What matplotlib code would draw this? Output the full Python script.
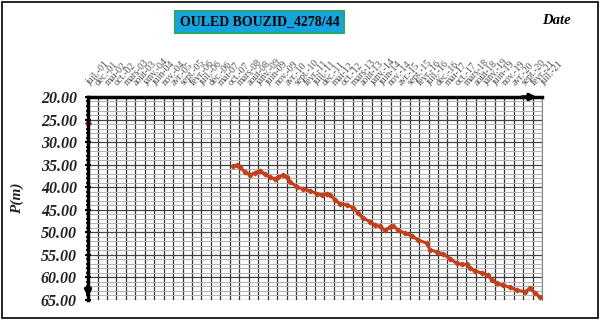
import matplotlib
matplotlib.use("Agg")
import matplotlib.pyplot as plt
import matplotlib.dates as mdates
import matplotlib.transforms as mtransforms
from matplotlib.ticker import MultipleLocator, FixedLocator
from matplotlib.patches import Rectangle
import pandas as pd

title = "OULED BOUZID_4278/44"

first_date = ["2001-07-01"]
first_value = [25.8]

dates = ["2007-11-25", "2008-01-18", "2008-03-10", "2008-06-01", "2008-08-18",
         "2008-11-09", "2009-01-28", "2009-04-18", "2009-07-06", "2009-09-27",
         "2009-11-18", "2010-02-06", "2010-04-01", "2010-05-25", "2010-09-10",
         "2010-12-25", "2011-04-12", "2011-07-28", "2011-10-15", "2012-01-06",
         "2012-02-28", "2012-05-18", "2012-08-06", "2012-11-25", "2013-03-06",
         "2013-05-28", "2013-08-15", "2013-12-03", "2014-02-22", "2014-05-10",
         "2014-08-01", "2014-10-18", "2014-12-12", "2015-03-01", "2015-06-18",
         "2015-10-04", "2016-01-18", "2016-06-01", "2016-07-25", "2016-11-10",
         "2017-02-25", "2017-06-12", "2017-09-28", "2017-12-16", "2018-03-06",
         "2018-04-28", "2018-07-18", "2018-11-03", "2019-02-18", "2019-04-12",
         "2019-07-01", "2019-10-16", "2020-02-03", "2020-05-18", "2020-10-01",
         "2020-12-20", "2021-03-10", "2021-05-28"]
values = [35.4, 35.1, 35.6, 36.6, 37.3, 36.8, 36.3, 37.1, 37.8, 38.2,
          37.8, 37.3, 37.7, 38.8, 39.9, 40.4, 40.8, 41.4, 41.7, 41.4,
          41.7, 42.8, 43.7, 43.9, 44.5, 45.8, 46.9, 47.6, 48.4, 48.7,
          49.5, 48.9, 48.6, 49.5, 50.2, 50.8, 51.7, 52.4, 53.9, 54.3,
          54.9, 55.8, 56.9, 57.1, 57.1, 58.0, 58.5, 59.0, 59.5, 60.6,
          61.3, 61.7, 62.2, 62.8, 63.2, 62.4, 63.4, 64.4]

tick_labels = ["juil.-01", "déc.-01", "mai-02", "oct.-02", "mars-03", "août-03",
               "janv.-04", "juin-04", "nov.-04", "avr.-05", "sept.-05", "févr.-06",
               "juil.-06", "déc.-06", "mai-07", "oct.-07", "mars-08", "août-08",
               "janv.-09", "juin-09", "nov.-09", "avr.-10", "sept.-10", "févr.-11",
               "juil.-11", "déc.-11", "mai-12", "oct.-12", "mars-13", "août-13",
               "janv.-14", "juin-14", "nov.-14", "avr.-15", "sept.-15", "févr.-16",
               "juil.-16", "déc.-16", "mai-17", "oct.-17", "mars-18", "août-18",
               "janv.-19", "juin-19", "nov.-19", "avr.-20", "sept.-20", "févr.-21",
               "juil.-21"]

serif = ["Liberation Serif", "DejaVu Serif"]

fig = plt.figure(figsize=(6.0, 3.22), dpi=100)
fig.patch.set_facecolor("white")
fig.patches.append(Rectangle((0.003, 0.012), 0.993, 0.982, transform=fig.transFigure,
                             fill=False, edgecolor="black", linewidth=1.2))

ax = fig.add_axes([0.1467, 0.0683, 0.7566, 0.6305])

tick_pos = pd.date_range("2001-07-01", periods=len(tick_labels), freq="5MS")
xmin, xmax = tick_pos[0], tick_pos[-1]

ax.set_xlim(mdates.date2num(xmin), mdates.date2num(xmax))
ax.set_ylim(65, 20)

# grid
ax.yaxis.set_major_locator(MultipleLocator(5))
ax.yaxis.set_minor_locator(MultipleLocator(1))
ax.xaxis.set_major_locator(FixedLocator(mdates.date2num(tick_pos)))
ax.grid(which="minor", axis="y", color="#b4b4b4", linewidth=0.8)
ax.grid(which="major", axis="y", color="#444444", linewidth=0.9)
ax.grid(which="major", axis="x", color="#333333", linewidth=0.9)
ax.set_axisbelow(True)

ax.xaxis.tick_top()
ax.set_xticks(mdates.date2num(tick_pos))
ax.set_xticklabels(tick_labels, rotation=48, ha="left", va="bottom",
                   rotation_mode="anchor", fontsize=7, color="#505050",
                   family=serif)
ax.tick_params(axis="x", length=0, pad=7)
shift = mtransforms.ScaledTranslation(3 / 100, 0, fig.dpi_scale_trans)
for lab in ax.get_xticklabels():
    lab.set_transform(lab.get_transform() + shift)

ax.set_yticks(range(20, 66, 5))
ax.set_yticklabels([f"{v:.2f}" for v in range(20, 66, 5)])
for lab in ax.get_yticklabels():
    lab.set_fontfamily(serif)
    lab.set_fontsize(11.5)
    lab.set_fontweight("bold")
    lab.set_fontstyle("italic")
    lab.set_color("#222222")
ax.tick_params(axis="y", which="major", length=4, width=1.5, direction="inout", pad=6)
ax.tick_params(axis="y", which="minor", length=3, width=1.2, direction="inout")

ax.spines["bottom"].set_visible(False)
ax.spines["right"].set_color("#888888")
ax.spines["right"].set_linewidth(0.8)
ax.spines["left"].set_linewidth(2.5)
ax.spines["top"].set_linewidth(2.5)

# arrows
ax.annotate("", xy=(0, 0.0), xytext=(0, 0.06), xycoords="axes fraction",
            arrowprops=dict(arrowstyle="-|>", color="black", lw=2.5, mutation_scale=9))
ax.annotate("", xy=(0.995, 1.0), xytext=(0.95, 1.0), xycoords="axes fraction",
            arrowprops=dict(arrowstyle="-|>", color="black", lw=2.5, mutation_scale=9))

red = "#c2401c"
ax.plot(pd.to_datetime(first_date), first_value, marker="D", markersize=3,
        color=red, linestyle="none", clip_on=False)
ax.plot(pd.to_datetime(dates), values, color=red, linewidth=2.2,
        marker="D", markersize=2.4, zorder=3)

ax.set_ylabel("P(m)", family=serif, fontsize=11, fontweight="bold",
              fontstyle="italic", labelpad=12, color="#222222")

fig.text(0.433, 0.932, title, ha="center", va="center", family=serif,
         fontsize=10, fontweight="bold", color="black",
         bbox=dict(boxstyle="square,pad=0.35", facecolor="#14a5e0",
                   edgecolor="#2aa868", linewidth=1.5))
fig.text(0.927, 0.935, "Date", ha="center", va="center", family=serif,
         fontsize=10.5, fontweight="bold", fontstyle="italic", color="black")

fig.savefig("out.png", dpi=100, facecolor="white")
